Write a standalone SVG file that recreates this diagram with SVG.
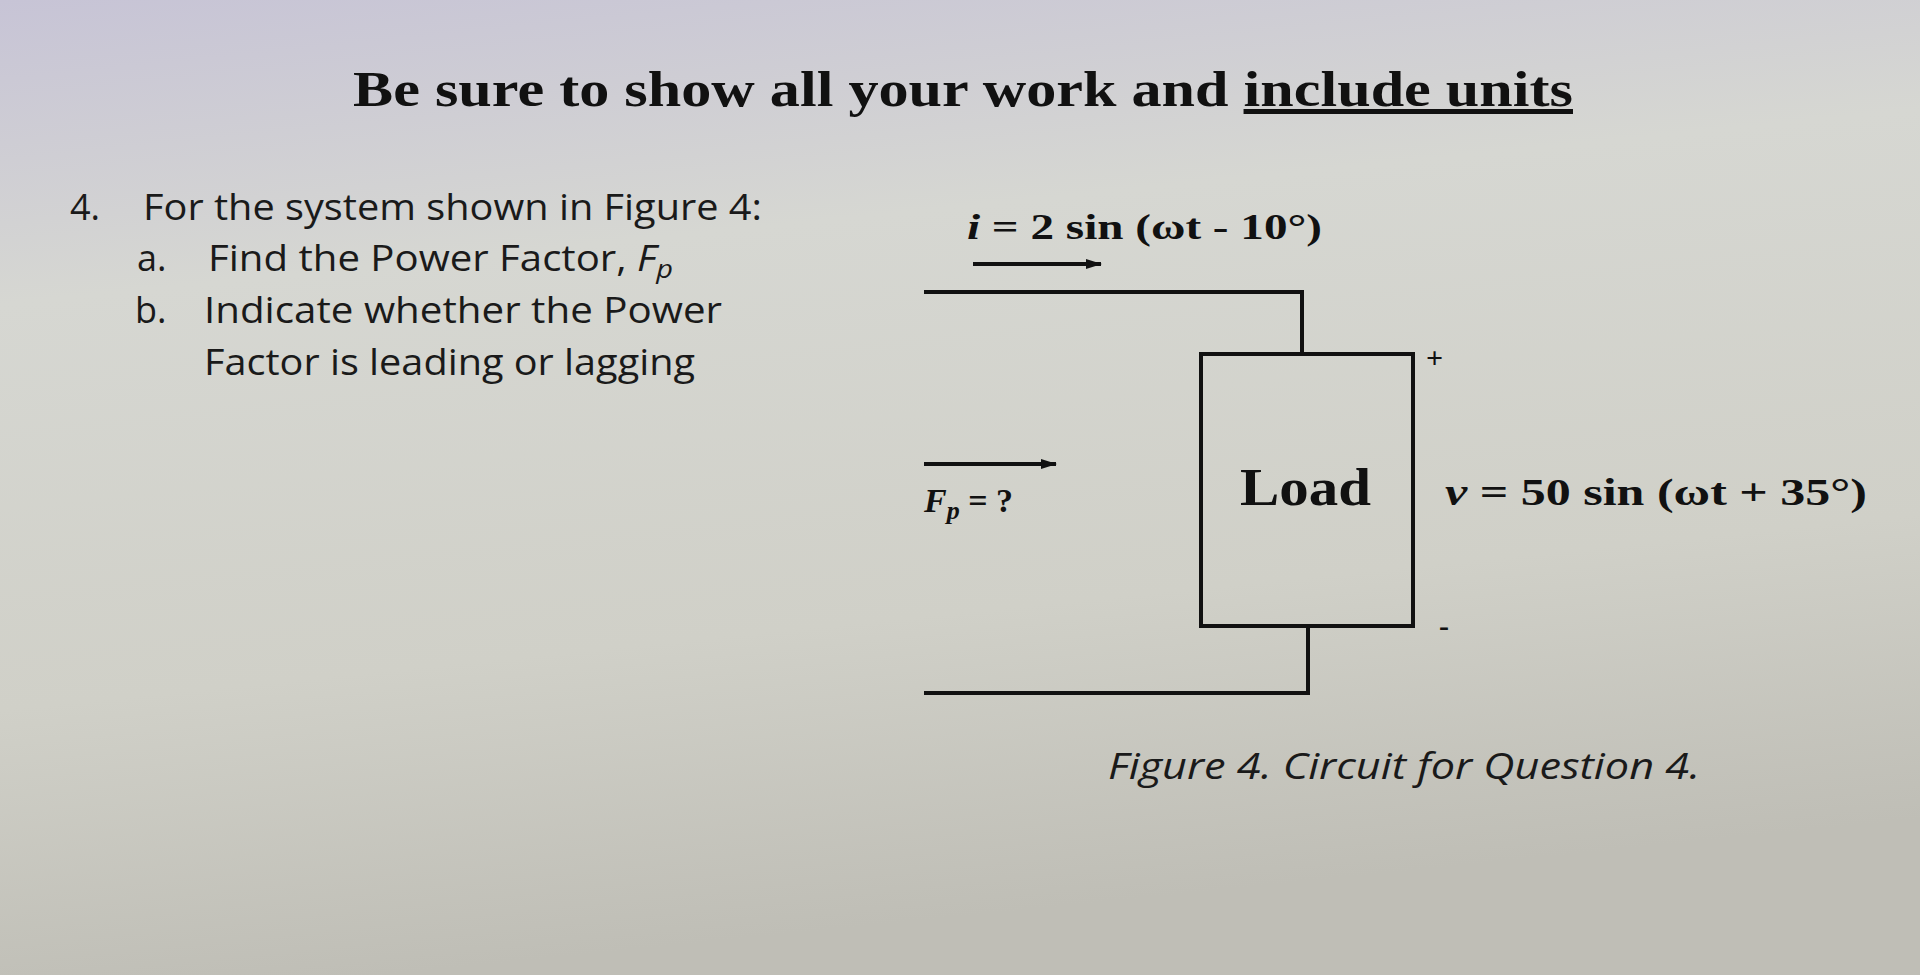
<svg xmlns="http://www.w3.org/2000/svg" width="1920" height="975" viewBox="0 0 1920 975">
<defs>
<linearGradient id="bg" x1="0" y1="0" x2="0.2" y2="1">
<stop offset="0" stop-color="#c7c4d6"/>
<stop offset="0.3" stop-color="#d6d7d2"/>
<stop offset="0.7" stop-color="#d0d0c8"/>
<stop offset="1" stop-color="#bfbeb6"/>
</linearGradient>
<marker id="ah" markerWidth="16" markerHeight="10" refX="15" refY="5" orient="auto" markerUnits="userSpaceOnUse"><path d="M0,0 L16,5 L0,10 Z" fill="#111"/></marker>
<style>
.w{stroke:#111;stroke-width:4;fill:none}
.s{font-family:"Open Sans","Liberation Sans",sans-serif;font-size:36px;fill:#1a1a1a}
.f{font-family:"Liberation Serif",serif;font-weight:bold;fill:#111}
</style>
</defs>
<rect width="1920" height="975" fill="url(#bg)"/>
<text class="f" x="353" y="106" font-size="50" textLength="1220" lengthAdjust="spacingAndGlyphs">Be sure to show all your work and <tspan text-decoration="underline">include units</tspan></text>
<g id="question">
<text class="s" x="70" y="220">4.</text><text class="s" x="143" y="220" textLength="619" lengthAdjust="spacingAndGlyphs">For the system shown in Figure 4:</text>
<text class="s" x="137" y="271">a.</text><text class="s" x="208" y="271" textLength="465" lengthAdjust="spacingAndGlyphs">Find the Power Factor, <tspan font-style="italic">F<tspan font-size="26" dy="7">p</tspan></tspan></text>
<text class="s" x="135" y="323">b.</text><text class="s" x="204" y="323" textLength="518" lengthAdjust="spacingAndGlyphs">Indicate whether the Power</text>
<text class="s" x="204" y="375" textLength="491" lengthAdjust="spacingAndGlyphs">Factor is leading or lagging</text>
</g>
<g id="connectors">
<polyline class="w" points="924,292 1302,292 1302,354"/>
<polyline class="w" points="924,693 1308,693 1308,626"/>
<line class="w" x1="973" y1="264" x2="1101" y2="264" marker-end="url(#ah)"/>
<line class="w" x1="924" y1="464" x2="1056" y2="464" marker-end="url(#ah)"/>
</g>
<g id="load">
<rect x="1201" y="354" width="212" height="272" fill="none" stroke="#111" stroke-width="4"/>
<text class="f" x="1240" y="505" font-size="52" textLength="131" lengthAdjust="spacingAndGlyphs">Load</text>
</g>
<g id="labels">
<text class="f" x="967" y="239" font-size="36" textLength="355" lengthAdjust="spacingAndGlyphs"><tspan font-style="italic">i</tspan> = 2 sin (ωt - 10°)</text>
<text class="f" x="924" y="512" font-size="34"><tspan font-style="italic">F<tspan font-size="26" dy="7">p</tspan></tspan><tspan dy="-7"> = ?</tspan></text>
<text class="f" x="1426" y="368" font-size="30">+</text>
<text class="f" x="1439" y="636" font-size="30">-</text>
<text class="f" x="1445" y="505" font-size="37" textLength="422" lengthAdjust="spacingAndGlyphs"><tspan font-style="italic">v</tspan> = 50 sin (ωt + 35°)</text>
</g>
<text class="s" x="1108" y="779" font-style="italic" textLength="592" lengthAdjust="spacingAndGlyphs">Figure 4. Circuit for Question 4.</text>
</svg>
